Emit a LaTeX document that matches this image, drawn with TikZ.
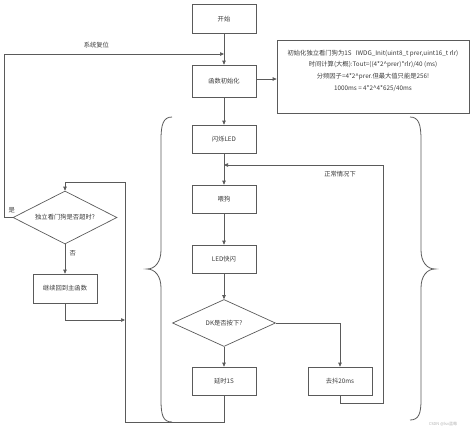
\documentclass[tikz,border=0pt]{standalone}
\usepackage{fontspec}
\setmainfont{Noto Sans CJK SC}
\usetikzlibrary{shapes.geometric,arrows.meta}
\definecolor{linegray}{HTML}{5A5A5A}
\definecolor{txtgray}{HTML}{3A3A3A}

\begin{document}
\begin{tikzpicture}[x=1pt,y=-1pt,
	font=\fontsize{6.3}{11.5}\selectfont, text=txtgray,
	stepbox/.style={draw=linegray,line width=0.7pt,minimum width=64pt,minimum height=28pt,inner sep=0pt},
	decision/.style={draw=linegray,line width=0.7pt,diamond,aspect=2.2,inner sep=0pt},
	flow/.style={draw=linegray,line width=0.7pt,-{Triangle[length=4pt,width=3.5pt]}},
	plain/.style={draw=linegray,line width=0.7pt},
	brace/.style={draw=linegray,line width=0.8pt}]
				\useasboundingbox (0,0) rectangle (474,432);
				% main column
				\node[stepbox,minimum height=29pt] (start) at (224,19) {开始};
				\node[stepbox,minimum height=32pt] (init) at (224,81) {函数初始化};
				\node[stepbox] (blink) at (224,139) {闪烁LED};
				\node[stepbox] (feed) at (224,199) {喂狗};
				\node[stepbox] (fast) at (224,259) {LED快闪};
				\node[decision,minimum width=103pt,minimum height=47pt] (dk) at (224,323) {DK是否按下?};
				\node[stepbox] (delay) at (224,381) {延时1S};
				\node[stepbox] (deb) at (340,381) {去抖20ms};
				% watchdog branch
				\node[decision,minimum width=104pt,minimum height=53pt] (wd) at (65,217.5) {独立看门狗是否超时?};
				\node[stepbox,minimum height=29pt] (cont) at (65,288.5) {继续回到主函数};
				% note
				\node[draw=linegray,line width=0.7pt,minimum width=192pt,minimum height=73pt,inner sep=0pt] (note) at (373,76.5) {};
				\node[align=center] (notetxt) at (373,71) {初始化独立看门狗为1S\ \ \ IWDG\_Init(uint8\_t prer,uint16\_t rlr)\\
					时间计算(大概):Tout=((4*2\^{}prer)*rlr)/40 (ms)\\
					分频因子=4*2\^{}prer.但最大值只能是256!\\[1pt]
					1000ms = 4*2\^{}4*625/40ms};
				\coordinate (lft) at (4,54);
				\coordinate (rst) at (224,54);
				\coordinate (nrm) at (224,165);
				\coordinate (rgt) at (383,165);
				\coordinate (lp1) at (125,422);
				\coordinate (lp2) at (125,182);
				\coordinate (join) at (125,320);
				% connectors
				\draw[flow] (start) -- (init);
				\draw[flow] (init.east |- 0,79) -- (note.west |- 0,79);
				\draw[flow] (init) -- (blink);
				\draw[flow] (blink) -- (feed);
				\draw[flow] (feed) -- (fast);
				\draw[flow] (fast) -- (dk);
				\draw[flow] (dk) -- (delay);
				\draw[flow] (dk.east) -| (deb.north);
				\draw[flow] (deb.south) -- ++(0,8) -| (rgt) -- node[pos=0.27,below=3pt] {正常情况下} (nrm);
				\draw[flow] (delay.south) |- (lp1) -- (lp2) -| (wd.north);
				\draw[flow] (wd.west) -- (wd.west -| lft) node[above right=1pt] {是} -- (lft) -- node[pos=0.42,above=2pt] {系统复位} (rst);
				\draw[flow] (wd) -- node[right=1pt,pos=0.3] {否} (cont);
				\draw[flow] (cont.south) |- (join);
				% braces
				\draw[brace] (172,117) .. controls (163,117) and (161,125) .. (161,140) -- (161,250)
					.. controls (161,262) and (155,269) .. (147,269) .. controls (155,269) and (161,276) .. (161,288)
					-- (161,400) .. controls (161,415) and (163,422) .. (172,422);
				\draw[brace] (410,117) .. controls (419,117) and (421,125) .. (421,140) -- (421,250)
					.. controls (421,262) and (427,269) .. (435,269) .. controls (427,269) and (421,276) .. (421,288)
					-- (421,400) .. controls (421,413) and (419,420) .. (410,420);
				\node[text=gray!60,font=\fontsize{4}{5}\selectfont] (mark) at (443,424) {CSDN @lsv蓝莓};
\end{tikzpicture}
\end{document}
